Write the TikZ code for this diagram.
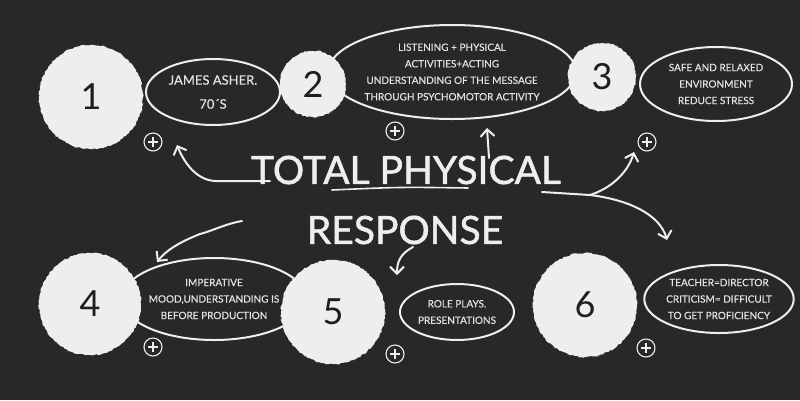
\documentclass[tikz,border=0pt]{standalone}
\usepackage{fontspec}
\setmainfont{Lato}
\newfontfamily\titlefont[FakeBold=1.3]{Lato}
\newfontfamily\bubblefont[FakeBold=0.4]{Lato}
\usetikzlibrary{shapes.geometric,decorations.pathmorphing,arrows.meta}
\definecolor{board}{RGB}{40,40,40}
\definecolor{chalk}{RGB}{238,238,238}
\definecolor{chalktext}{RGB}{228,228,228}
\definecolor{ink}{RGB}{30,30,30}
\tikzset{
  disc/.style={circle, inner sep=0pt, fill=chalk, text=ink,
    font=\fontsize{36}{36}\selectfont,
    decoration={random steps,segment length=2pt,amplitude=0.7pt}, decorate,
    preaction={fill=white, opacity=0.25, transform shape,
      decoration={random steps,segment length=1.5pt,amplitude=1.6pt}, decorate}},
  bubble/.style={ellipse, inner sep=0pt, draw=chalk, line width=2pt, text=chalktext,
    align=center, font=\bubblefont\fontsize{10}{16.5}\selectfont},
  plus/.style={circle, draw=chalk, line width=1.1pt, minimum size=18pt, inner sep=0pt,
    path picture={\draw[chalk, line width=1.1pt]
      ([xshift=-5pt]path picture bounding box.center) -- ([xshift=5pt]path picture bounding box.center)
      ([yshift=-5pt]path picture bounding box.center) -- ([yshift=5pt]path picture bounding box.center);}},
  titletxt/.style={text=chalk, font=\titlefont\fontsize{39}{39}\selectfont, inner sep=0pt},
  chalkline/.style={draw=chalk, line width=2pt, line cap=round, line join=round},
  chalkarrow/.style={chalkline, -{Straight Barb[length=7pt,width=14pt,line width=2pt]}}
}
\begin{document}
\begin{tikzpicture}[x=1pt,y=-1pt]
\fill[board] (0,0) rectangle (800,400);
\useasboundingbox (0,0) rectangle (800,400);
% discs
\node[disc, minimum size=104pt] (c1) at (91,97) {1};
\node[disc, minimum size=66pt] (c2) at (313,84) {2};
\node[disc, minimum size=68pt] (c3) at (602,77) {3};
\node[disc, minimum size=102pt] (c4) at (90,304) {4};
\node[disc, minimum size=104pt] (c5) at (333,312) {5};
\node[disc, minimum size=104pt] (c6) at (585,305) {6};
% bubbles
\node[bubble, minimum width=134pt, minimum height=66pt, font=\bubblefont\fontsize{13}{24}\selectfont] (e1) at (213,92) {JAMES ASHER.\\70´S};
\node[bubble, minimum width=206pt, minimum height=94pt] (e2) at (452,72) {LISTENING + PHYSICAL\\ACTIVITIES+ACTING\\UNDERSTANDING OF THE MESSAGE\\THROUGH PSYCHOMOTOR ACTIVITY};
\node[bubble, minimum width=152pt, minimum height=74pt] (e3) at (716,84) {SAFE AND RELAXED\\ENVIRONMENT\\REDUCE STRESS};
\node[bubble, minimum width=160pt, minimum height=82pt] (e4) at (214,299) {IMPERATIVE\\MOOD,UNDERSTANDING IS\\BEFORE PRODUCTION};
\node[bubble, minimum width=114pt, minimum height=56pt] (e5) at (457,312) {ROLE PLAYS.\\PRESENTATIONS};
\node[bubble, minimum width=138pt, minimum height=68pt] (e6) at (719,299) {TEACHER=DIRECTOR\\CRITICISM= DIFFICULT\\TO GET PROFICIENCY};
% plus signs
\node[plus] (p1) at (153,142) {};
\node[plus] (p2) at (395,131) {};
\node[plus] (p3) at (647,142) {};
\node[plus] (p4) at (153,347) {};
\node[plus] (p5) at (395,354) {};
\node[plus] (p6) at (646,348) {};
% title
\node[titletxt] (t1) at (406,170) {TOTAL PHYSICAL};
\node[titletxt] (t2) at (405,230) {RESPONSE};
% connector ends
\coordinate (a1s) at (270,181);
\coordinate (a1e) at (177,145);
\coordinate (a2s) at (489,158);
\coordinate (a2e) at (487,128);
\coordinate (fork) at (590,195);
\coordinate (a3s) at (542,192);
\coordinate (a3e) at (634,152);
\coordinate (a4e) at (667,240);
\coordinate (a5s) at (242,221);
\coordinate (a5e) at (157,262);
\coordinate (a6s) at (413,247);
\coordinate (a6e) at (397,275);
\coordinate (u1) at (332,190);
\coordinate (u2) at (468,188);
% connectors
\draw[chalkarrow] (a1s) -- (215,181) .. controls (195,180) and (183,160) .. (a1e);
\draw[chalkarrow] (a2s) -- (a2e);
\draw[chalkline] (a3s) -- (fork);
\draw[chalkarrow] (fork) .. controls (612,188) and (628,172) .. (a3e);
\draw[chalkarrow] (fork) .. controls (630,200) and (660,215) .. (a4e);
\draw[chalkarrow] (a5s) .. controls (225,224) and (212,231) .. (200,234)
  .. controls (185,240) and (168,248) .. (a5e);
\draw[chalkarrow] (a6s) .. controls (400,254) and (397,262) .. (a6e);
\draw[chalkline, line width=1.6pt] (u1) .. controls (400,187) .. (u2);
\end{tikzpicture}
\end{document}
